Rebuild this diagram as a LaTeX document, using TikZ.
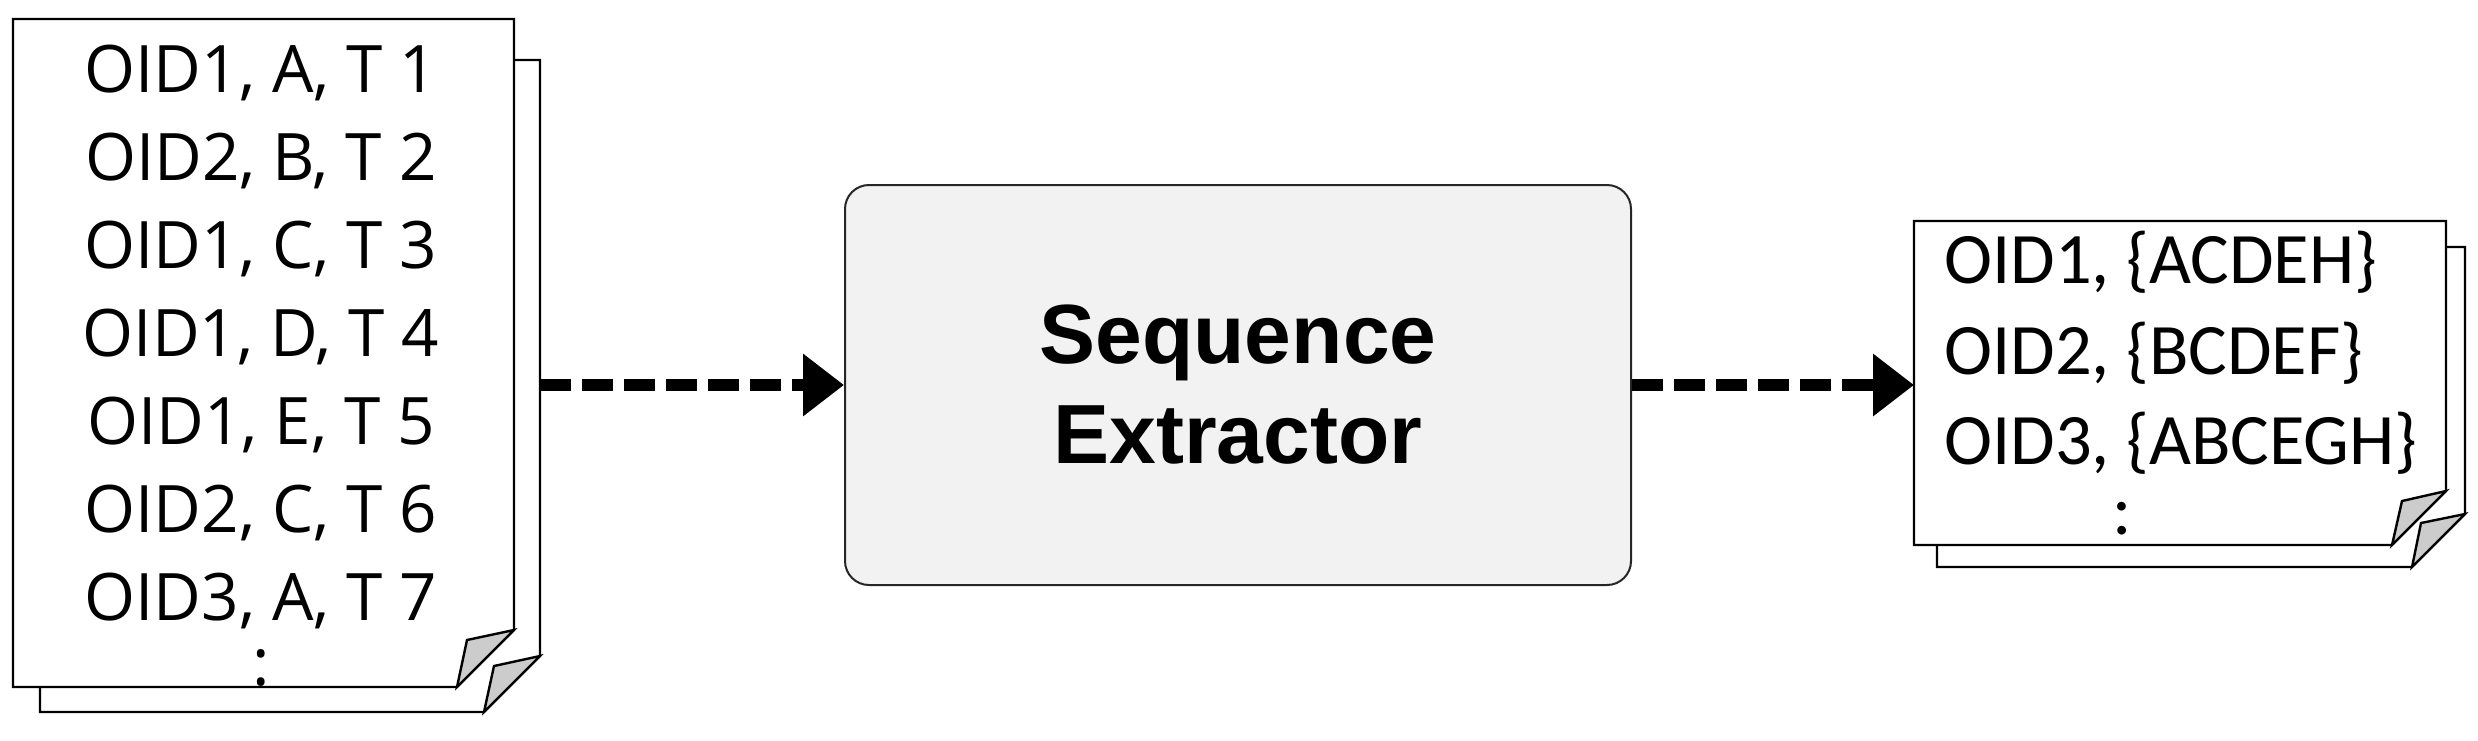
\documentclass[tikz,border=0pt]{standalone}
\usepackage{fontspec}
\newfontfamily\docfont{Open Sans}
\newfontfamily\listfont{Carlito}
\newfontfamily\boxfont{Liberation Sans}
\usetikzlibrary{arrows.meta,calc}
\tikzset{
  sheetarea/.style={draw=none, inner sep=0pt, outer sep=0pt},
  sheetline/.style={line width=2.4pt, line join=miter},
  flapfill/.style={fill=black!20},
  doctext/.style={inner sep=0pt, anchor=base, font=\docfont\fontsize{65.5}{88}\selectfont},
  listtext/.style={inner sep=0pt, anchor=base west, font=\listfont\fontsize{72.5}{90}\selectfont},
  procbox/.style={draw=black!85, line width=2pt, fill=black!5, rounded corners=24pt,
    minimum width=786pt, minimum height=400pt, align=center,
    font=\boxfont\bfseries\fontsize{84}{100}\selectfont},
  flowarrow/.style={line width=11.5pt, dash pattern=on 31pt off 11pt,
    -{Triangle[length=41pt,width=60pt]}}
}
\newcommand\foldsheet[3]{%
  \draw[sheetline, fill=white] (#1.north west) -- (#1.north east)
    -- ($(#1.south east)+(0,-#2)$) -- ($(#1.south east)+(-#2,0)$)
    -- (#1.south west) -- cycle;
  \draw[sheetline, flapfill] ($(#1.south east)+(-#2,0)$)
    -- ($(#1.south east)+(-#3,-#3)$) -- ($(#1.south east)+(0,-#2)$) -- cycle;
}
\begin{document}
\begin{tikzpicture}[x=1pt,y=-1pt]
  \useasboundingbox (0,0) rectangle (2478,740);
  % left document stack
  \node[sheetarea, minimum width=500pt, minimum height=652pt] (inback) at (290,386) {};
  \node[sheetarea, minimum width=501pt, minimum height=668pt] (infront) at (263.5,353) {};
  \foldsheet{inback}{56}{46}
  \foldsheet{infront}{57}{47}
  \node[doctext] (l1) at (261,92) {OID1, A, T 1};
  \node[doctext] (l2) at (261,180) {OID2, B, T 2};
  \node[doctext] (l3) at (261,268) {OID1, C, T 3};
  \node[doctext] (l4) at (261,356) {OID1, D, T 4};
  \node[doctext] (l5) at (261,444) {OID1, E, T 5};
  \node[doctext] (l6) at (261,532) {OID2, C, T 6};
  \node[doctext] (l7) at (261,620) {OID3, A, T 7};
  \node[doctext] (lmore) at (261,685) {:};
  % process box
  \node[procbox] (box) at (1238,385) {Sequence\\Extractor};
  % right document stack
  \node[sheetarea, minimum width=528pt, minimum height=320pt] (outback) at (2201,407) {};
  \node[sheetarea, minimum width=532pt, minimum height=324pt] (outfront) at (2180,383) {};
  \foldsheet{outback}{53}{44}
  \foldsheet{outfront}{54}{44}
  \node[listtext] (r1) at (1944,283) {OID1, \{ACDEH\}};
  \node[listtext] (r2) at (1944,374) {OID2, \{BCDEF\}};
  \node[listtext] (r3) at (1944,464) {OID3, \{ABCEGH\}};
  \node[inner sep=0pt, anchor=base, font=\listfont\fontsize{72.5}{90}\selectfont] (rmore) at (2122,534) {:};
  % connectors
  \draw[flowarrow] (inback.east |- box.west) -- (box.west);
  \draw[flowarrow] (box.east) -- (box.east -| outfront.west);
\end{tikzpicture}
\end{document}
